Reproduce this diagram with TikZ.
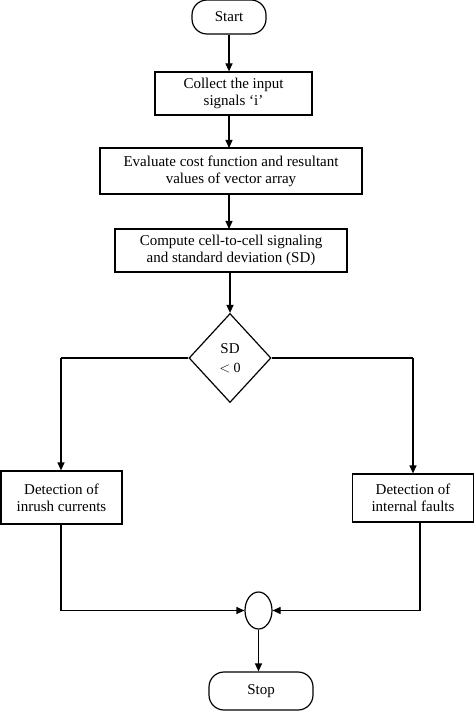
\documentclass[tikz,border=0pt]{standalone}
\usepackage{fontspec}
\setmainfont{Liberation Serif}
\usetikzlibrary{shapes.geometric,arrows.meta}
\begin{document}
\begin{tikzpicture}[x=1pt,y=-1pt,
  every node/.style={font=\fontsize{15}{17}\selectfont, align=center, inner sep=0pt},
  box/.style={draw, line width=1.2pt},
  term/.style={draw, line width=1.2pt, rounded corners=15pt},
  arr/.style={line width=1.2pt, -{Triangle[length=8pt,width=7pt]}},
  ln/.style={line width=1.2pt}]
\useasboundingbox (0,0) rectangle (474,711);
\node[term, minimum width=74pt, minimum height=34pt] (start) at (229,17) {Start};
\node[box, minimum width=157pt, minimum height=43pt] (collect) at (233.5,93.5) {Collect the input\\signals ‘i’};
\node[box, minimum width=262pt, minimum height=46pt] (eval) at (231,171) {Evaluate cost function and resultant\\values of vector array};
\node[box, minimum width=232pt, minimum height=43pt] (comp) at (231,250.5) {Compute cell-to-cell signaling\\and standard deviation (SD)};
\node[box, diamond, minimum width=82pt, minimum height=89pt] (dec) at (230,358) {SD\\[2pt]{\fontsize{14}{16}\selectfont$<$ 0}};
\node[box, minimum width=121pt, minimum height=53pt] (inr) at (61.5,497.5) {Detection of\\inrush currents};
\node[box, minimum width=121pt, minimum height=48pt] (intf) at (413,498) {Detection of\\internal faults};
\node[box, ellipse, minimum width=27pt, minimum height=37pt] (mrg) at (258.5,610.5) {};
\node[term, minimum width=104pt, minimum height=38pt] (stop) at (261,691) {Stop};
\coordinate (cL) at (61,358);
\coordinate (cR) at (413,358);
\coordinate (bL) at (61,610.5);
\coordinate (bR) at (420,610.5);
\draw[arr] (start.south) -- (start.south |- collect.north);
\draw[arr] (229,115) -- (229,148);
\draw[arr] (229,194) -- (229,229);
\draw[arr] (comp.south -| dec.north) -- (dec.north);
\draw[ln] (dec.west) -- (cL);
\draw[arr] (cL) -- (cL |- inr.north);
\draw[ln] (dec.east) -- (cR);
\draw[arr] (cR) -- (cR |- intf.north);
\draw[ln] (inr.south -| bL) -- (bL);
\draw[arr] (bL) -- (mrg.west);
\draw[ln] (intf.south -| bR) -- (bR);
\draw[arr] (bR) -- (mrg.east);
\draw[arr] (mrg.south) -- (mrg.south |- stop.north);
\end{tikzpicture}
\end{document}
